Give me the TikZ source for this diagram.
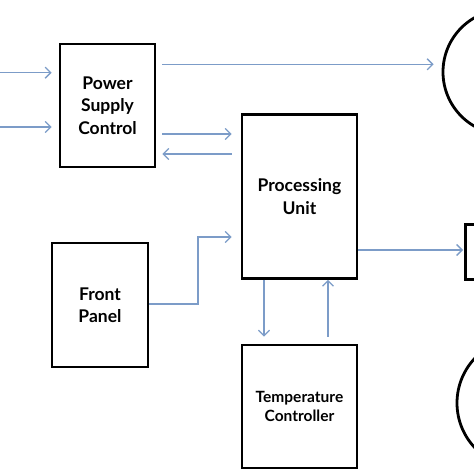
\documentclass[tikz,border=0pt]{standalone}
\usepackage{fontspec}
\setmainfont{Lato}
\usetikzlibrary{arrows.meta}
\definecolor{linkblue}{HTML}{7C9CC8}
\tikzset{
  blk/.style={draw=black, line width=2.8pt, fill=white, inner sep=0pt, align=center, font=\bfseries\fontsize{17.5}{22.5}\selectfont},
  link/.style={draw=linkblue, line width=1.3pt, -{Straight Barb[length=5.5pt,width=11pt,line width=1.3pt]}},
  rnd/.style={draw=black, line width=2.8pt, fill=white}
}
\begin{document}
\begin{tikzpicture}[x=1pt,y=-1pt]
\useasboundingbox (0,0) rectangle (474,474);
\fill[white] (0,0) rectangle (474,474);
\begin{scope}
\clip (0,0) rectangle (474,474);
% boxes
\node[blk, minimum width=95pt, minimum height=123pt] (psc) at (107.5,105.5) {Power\\Supply\\Control};
\node[blk, minimum width=115pt, minimum height=164pt, anchor=north] (pu) at (299.5,113) {};
\node[font=\bfseries\fontsize{17.5}{22.5}\selectfont, align=center] (putext) at (299.5,196.5) {Processing\\Unit};
\node[blk, minimum width=96pt, minimum height=124pt] (fp) at (100,305) {Front\\Panel};
\node[blk, minimum width=115pt, minimum height=123pt, font=\bfseries\fontsize{15.5}{18.5}\selectfont] (tc) at (299.5,406.5) {Temperature\\Controller};
\node[blk, minimum width=40pt, minimum height=55pt, anchor=north west] (outbox) at (464,223) {};
\node[rnd, circle, minimum size=125pt, inner sep=0pt] (c1) at (505.5,72) {};
\node[rnd, circle, minimum size=130pt, inner sep=0pt] (c2) at (522,403) {};
% free ends
\coordinate (in1) at (0,72.7);
\coordinate (in2) at (0,127);
% connectors
\draw[link, shorten >=7pt] (in1) -- (in1 -| psc.west);
\draw[link, shorten >=7pt] (in2) -- (in2 -| psc.west);
\draw[link, shorten <=6pt, shorten >=8pt] (psc.east |- 0,64.3) -- (c1.west |- 0,64.3);
\draw[link, shorten <=6pt, shorten >=9pt] (psc.east |- 0,134) -- (pu.west |- 0,134);
\draw[link, shorten <=9pt, shorten >=6pt] (pu.west |- 0,154) -- (psc.east |- 0,154);
\draw[link, shorten >=9pt] (fp.east |- 0,304) -| (198,237) -- (pu.west |- 0,237);
\draw[link, shorten >=1pt] (pu.east |- 0,250) -- (outbox.west |- 0,250);
\draw[link, shorten >=7pt] (264,0 |- pu.south) -- (264,0 |- tc.north);
\draw[link, shorten <=7pt] (328,0 |- tc.north) -- (328,0 |- pu.south);
\end{scope}
\end{tikzpicture}
\end{document}
